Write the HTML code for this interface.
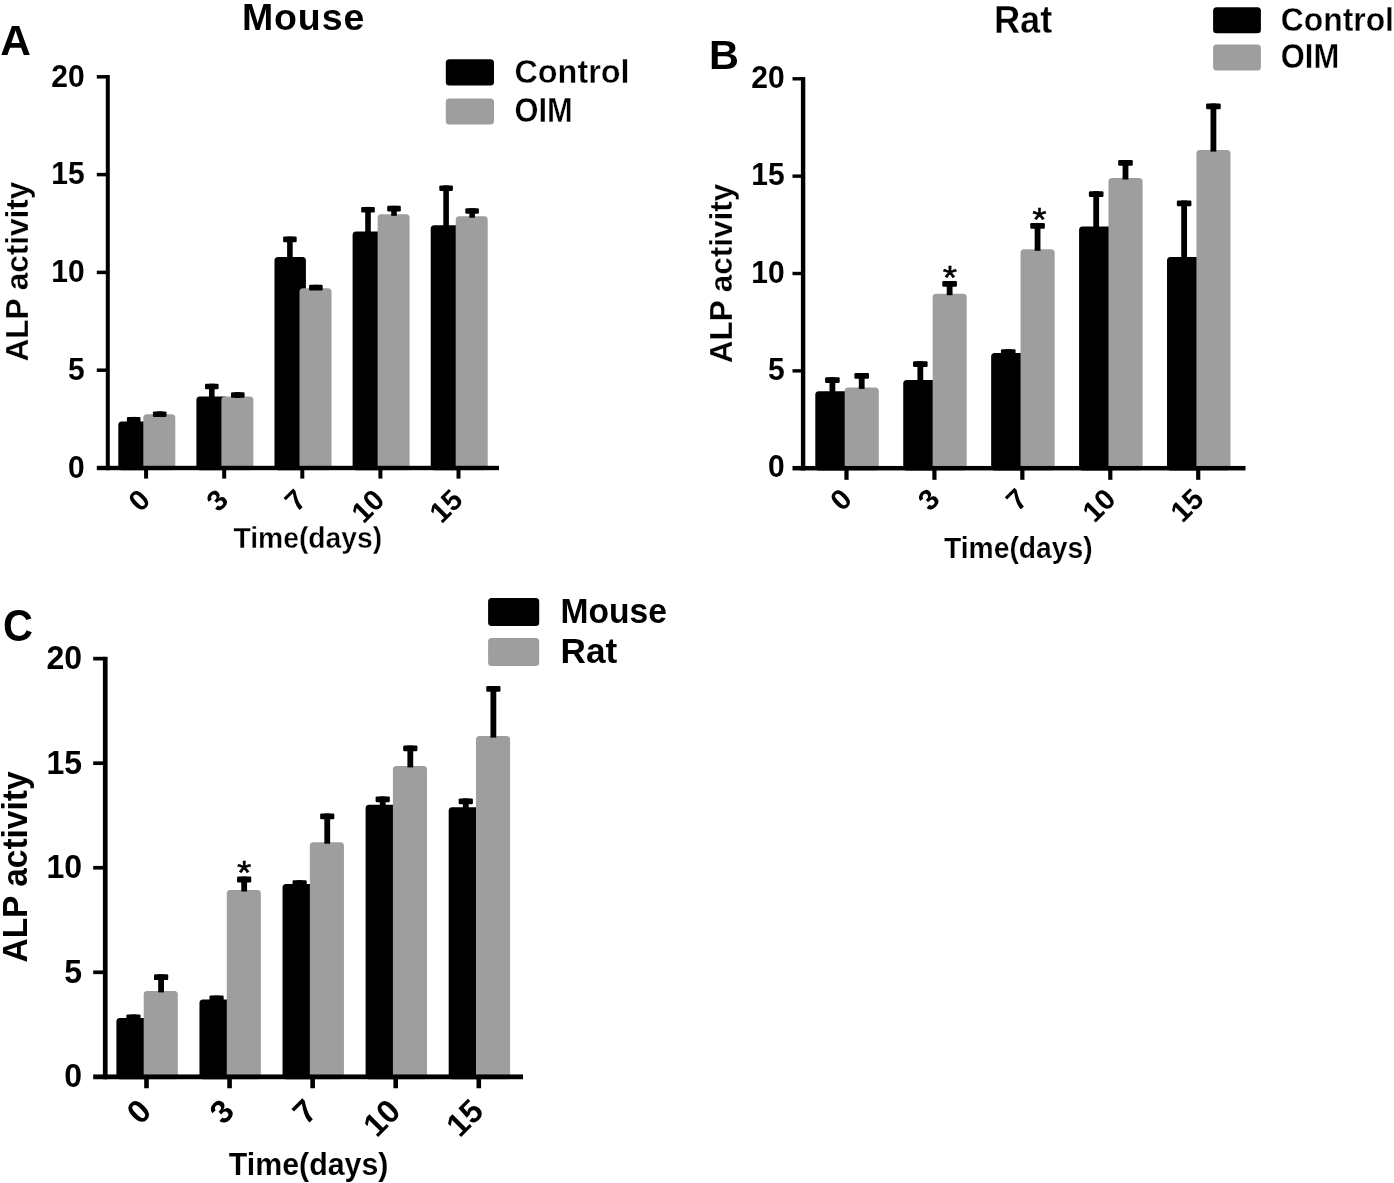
<!DOCTYPE html>
<html lang="en">
<head>
<meta charset="utf-8">
<title>ALP activity</title>
<style>
html,body{margin:0;padding:0;background:#fff;}
body{width:1394px;height:1183px;overflow:hidden;}
svg{display:block;}
svg text{font-family:"Liberation Sans", sans-serif;font-weight:bold;fill:#000;}
svg text.star{font-weight:normal;stroke:#000;stroke-width:0.5px;}
</style>
</head>
<body>
<svg width="1394" height="1183" viewBox="0 0 1394 1183">
<defs><filter id="soft" x="0" y="0" width="100%" height="100%" filterUnits="userSpaceOnUse" color-interpolation-filters="sRGB"><feGaussianBlur stdDeviation="0.55"/></filter></defs>
<rect x="0" y="0" width="1394" height="1183" fill="#fff"/>
<g id="figure" filter="url(#soft)">
<g id="panelA">
<rect x="118.3" y="421.6" width="31.4" height="48.6" rx="3.5" fill="#000"/>
<rect x="143.3" y="414.2" width="32" height="56" rx="3.5" fill="#9e9e9e"/>
<rect x="130.9" y="416.9" width="5.6" height="6.2" fill="#000"/>
<rect x="126.9" y="416.9" width="13.6" height="5.6" rx="1.2" fill="#000"/>
<rect x="156.9" y="411.4" width="5.6" height="4.3" fill="#000"/>
<rect x="152.9" y="411.4" width="13.6" height="5.6" rx="1.2" fill="#000"/>
<rect x="196.4" y="396.5" width="31.4" height="73.7" rx="3.5" fill="#000"/>
<rect x="221.4" y="396.5" width="32" height="73.7" rx="3.5" fill="#9e9e9e"/>
<rect x="209" y="383.7" width="5.6" height="14.3" fill="#000"/>
<rect x="205" y="383.7" width="13.6" height="5.6" rx="1.2" fill="#000"/>
<rect x="235" y="392.2" width="5.6" height="5.8" fill="#000"/>
<rect x="231" y="392.2" width="13.6" height="5.6" rx="1.2" fill="#000"/>
<rect x="274.5" y="257.1" width="31.4" height="213.1" rx="3.5" fill="#000"/>
<rect x="299.5" y="288.2" width="32" height="182" rx="3.5" fill="#9e9e9e"/>
<rect x="287.1" y="236.6" width="5.6" height="22" fill="#000"/>
<rect x="283.1" y="236.6" width="13.6" height="5.6" rx="1.2" fill="#000"/>
<rect x="313.1" y="284.8" width="5.6" height="4.9" fill="#000"/>
<rect x="309.1" y="284.8" width="13.6" height="5.6" rx="1.2" fill="#000"/>
<rect x="352.6" y="231.4" width="31.4" height="238.8" rx="3.5" fill="#000"/>
<rect x="377.6" y="214.3" width="32" height="255.9" rx="3.5" fill="#9e9e9e"/>
<rect x="365.2" y="206.9" width="5.6" height="26" fill="#000"/>
<rect x="361.2" y="206.9" width="13.6" height="5.6" rx="1.2" fill="#000"/>
<rect x="391.2" y="205.8" width="5.6" height="10" fill="#000"/>
<rect x="387.2" y="205.8" width="13.6" height="5.6" rx="1.2" fill="#000"/>
<rect x="430.7" y="225.3" width="31.4" height="244.9" rx="3.5" fill="#000"/>
<rect x="455.7" y="216.2" width="32" height="254" rx="3.5" fill="#9e9e9e"/>
<rect x="443.3" y="185.4" width="5.6" height="41.4" fill="#000"/>
<rect x="439.3" y="185.4" width="13.6" height="5.6" rx="1.2" fill="#000"/>
<rect x="469.3" y="208.2" width="5.6" height="9.5" fill="#000"/>
<rect x="465.3" y="208.2" width="13.6" height="5.6" rx="1.2" fill="#000"/>
<rect x="105.8" y="75.05" width="4" height="395.15" fill="#000"/>
<rect x="96.8" y="465.8" width="402.2" height="4.4" fill="#000"/>
<text transform="translate(84.6 477.76) scale(1 1.03)" font-size="30" text-anchor="end">0</text>
<rect x="96.8" y="368.45" width="11" height="3.5" fill="#000"/>
<text transform="translate(84.6 379.96) scale(1 1.03)" font-size="30" text-anchor="end">5</text>
<rect x="96.8" y="270.65" width="11" height="3.5" fill="#000"/>
<text transform="translate(84.6 282.16) scale(1 1.03)" font-size="30" text-anchor="end">10</text>
<rect x="96.8" y="172.85" width="11" height="3.5" fill="#000"/>
<text transform="translate(84.6 184.36) scale(1 1.03)" font-size="30" text-anchor="end">15</text>
<rect x="96.8" y="75.05" width="11" height="3.5" fill="#000"/>
<text transform="translate(84.6 86.56) scale(1 1.03)" font-size="30" text-anchor="end">20</text>
<rect x="144.1" y="468" width="4" height="10.6" fill="#000"/>
<text transform="translate(151.9 501.6) rotate(-45)" font-size="29" text-anchor="end">0</text>
<rect x="222.2" y="468" width="4" height="10.6" fill="#000"/>
<text transform="translate(230 501.6) rotate(-45)" font-size="29" text-anchor="end">3</text>
<rect x="300.3" y="468" width="4" height="10.6" fill="#000"/>
<text transform="translate(308.1 501.6) rotate(-45)" font-size="29" text-anchor="end">7</text>
<rect x="378.4" y="468" width="4" height="10.6" fill="#000"/>
<text transform="translate(386.2 501.6) rotate(-45)" font-size="29" text-anchor="end">10</text>
<rect x="456.5" y="468" width="4" height="10.6" fill="#000"/>
<text transform="translate(464.3 501.6) rotate(-45)" font-size="29" text-anchor="end">15</text>
<text transform="translate(307.8 548.1) scale(1.01 1.085)" font-size="28" text-anchor="middle" stroke="#fff" stroke-width="0.3">Time(days)</text>
<text transform="translate(28.2 271.6) rotate(-90) scale(1.008 1.02)" font-size="31.3" text-anchor="middle" stroke="#fff" stroke-width="0.25">ALP activity</text>
<text transform="translate(0.3 54.9) scale(1 1.02)" font-size="42.5">A</text>
<text transform="translate(241.9 30)" font-size="37.5" letter-spacing="0.9">Mouse</text>
<rect x="445.8" y="59.2" width="48.2" height="26.2" rx="3.5" fill="#000"/>
<text transform="translate(514.4 83) scale(1.013 1.055)" font-size="32" stroke="#fff" stroke-width="0.4">Control</text>
<rect x="445.8" y="98.4" width="48.2" height="26.2" rx="3.5" fill="#9e9e9e"/>
<text transform="translate(514.4 122.1) scale(0.965 1.095)" font-size="32" stroke="#fff" stroke-width="0.4">OIM</text>
</g>
<g id="panelB">
<rect x="815.3" y="391.2" width="34.2" height="79.25" rx="3.5" fill="#000"/>
<rect x="844.7" y="387.4" width="34.1" height="83.05" rx="3.5" fill="#9e9e9e"/>
<rect x="829.5" y="377.2" width="5.8" height="15.5" fill="#000"/>
<rect x="825.1" y="377.2" width="14.6" height="5.7" rx="1.2" fill="#000"/>
<rect x="858.8" y="373" width="5.8" height="15.9" fill="#000"/>
<rect x="854.4" y="373" width="14.6" height="5.7" rx="1.2" fill="#000"/>
<rect x="903.23" y="379.9" width="34.2" height="90.55" rx="3.5" fill="#000"/>
<rect x="932.63" y="293.7" width="34.1" height="176.75" rx="3.5" fill="#9e9e9e"/>
<rect x="917.43" y="361.2" width="5.8" height="20.2" fill="#000"/>
<rect x="913.03" y="361.2" width="14.6" height="5.7" rx="1.2" fill="#000"/>
<rect x="946.73" y="281" width="5.8" height="14.2" fill="#000"/>
<rect x="942.33" y="281" width="14.6" height="5.7" rx="1.2" fill="#000"/>
<rect x="991.16" y="353" width="34.2" height="117.45" rx="3.5" fill="#000"/>
<rect x="1020.56" y="249.3" width="34.1" height="221.15" rx="3.5" fill="#9e9e9e"/>
<rect x="1005.36" y="349.3" width="5.8" height="5.2" fill="#000"/>
<rect x="1000.96" y="349.3" width="14.6" height="5.7" rx="1.2" fill="#000"/>
<rect x="1034.66" y="223" width="5.8" height="27.8" fill="#000"/>
<rect x="1030.26" y="223" width="14.6" height="5.7" rx="1.2" fill="#000"/>
<rect x="1079.09" y="226.6" width="34.2" height="243.85" rx="3.5" fill="#000"/>
<rect x="1108.49" y="178" width="34.1" height="292.45" rx="3.5" fill="#9e9e9e"/>
<rect x="1093.29" y="191.2" width="5.8" height="36.9" fill="#000"/>
<rect x="1088.89" y="191.2" width="14.6" height="5.7" rx="1.2" fill="#000"/>
<rect x="1122.59" y="160" width="5.8" height="19.5" fill="#000"/>
<rect x="1118.19" y="160" width="14.6" height="5.7" rx="1.2" fill="#000"/>
<rect x="1167.02" y="257.1" width="34.2" height="213.35" rx="3.5" fill="#000"/>
<rect x="1196.42" y="150.1" width="34.1" height="320.35" rx="3.5" fill="#9e9e9e"/>
<rect x="1181.22" y="200.5" width="5.8" height="58.1" fill="#000"/>
<rect x="1176.82" y="200.5" width="14.6" height="5.7" rx="1.2" fill="#000"/>
<rect x="1210.52" y="103.5" width="5.8" height="48.1" fill="#000"/>
<rect x="1206.12" y="103.5" width="14.6" height="5.7" rx="1.2" fill="#000"/>
<rect x="800.9" y="77.1" width="4.4" height="393.35" fill="#000"/>
<rect x="792.5" y="465.95" width="453" height="4.5" fill="#000"/>
<text transform="translate(784.6 477.46) scale(1 1.03)" font-size="30" text-anchor="end">0</text>
<rect x="792.5" y="369.15" width="10.6" height="3.4" fill="#000"/>
<text transform="translate(784.6 380.11) scale(1 1.03)" font-size="30" text-anchor="end">5</text>
<rect x="792.5" y="271.8" width="10.6" height="3.4" fill="#000"/>
<text transform="translate(784.6 282.76) scale(1 1.03)" font-size="30" text-anchor="end">10</text>
<rect x="792.5" y="174.45" width="10.6" height="3.4" fill="#000"/>
<text transform="translate(784.6 185.41) scale(1 1.03)" font-size="30" text-anchor="end">15</text>
<rect x="792.5" y="77.1" width="10.6" height="3.4" fill="#000"/>
<text transform="translate(784.6 88.06) scale(1 1.03)" font-size="30" text-anchor="end">20</text>
<rect x="844.4" y="468.2" width="4.2" height="11.6" fill="#000"/>
<text transform="translate(853.6 500.9) rotate(-45)" font-size="29" text-anchor="end">0</text>
<rect x="932.33" y="468.2" width="4.2" height="11.6" fill="#000"/>
<text transform="translate(941.53 500.9) rotate(-45)" font-size="29" text-anchor="end">3</text>
<rect x="1020.26" y="468.2" width="4.2" height="11.6" fill="#000"/>
<text transform="translate(1029.46 500.9) rotate(-45)" font-size="29" text-anchor="end">7</text>
<rect x="1108.19" y="468.2" width="4.2" height="11.6" fill="#000"/>
<text transform="translate(1117.39 500.9) rotate(-45)" font-size="29" text-anchor="end">10</text>
<rect x="1196.12" y="468.2" width="4.2" height="11.6" fill="#000"/>
<text transform="translate(1205.32 500.9) rotate(-45)" font-size="29" text-anchor="end">15</text>
<text transform="translate(1018.3 558.2) scale(1.01 1.075)" font-size="28" text-anchor="middle" stroke="#fff" stroke-width="0.2">Time(days)</text>
<text transform="translate(732.3 273.5) rotate(-90) scale(1.005 1.03)" font-size="31.3" text-anchor="middle" stroke="#fff" stroke-width="0.25">ALP activity</text>
<text transform="translate(709.1 69.1)" font-size="41.5">B</text>
<text transform="translate(993.9 32.6) scale(0.968 1.04)" font-size="37.5" stroke="#fff" stroke-width="0.35">Rat</text>
<rect x="1213.1" y="7.2" width="47.8" height="26" rx="3.5" fill="#000"/>
<text transform="translate(1280.8 30.5) scale(0.995 1.06)" font-size="32" stroke="#fff" stroke-width="0.3">Control</text>
<rect x="1213.1" y="44.5" width="47.8" height="26" rx="3.5" fill="#9e9e9e"/>
<text transform="translate(1280.8 67.6) scale(0.965 1.07)" font-size="32" stroke="#fff" stroke-width="0.3">OIM</text>
<text transform="translate(949.9 289) scale(1 0.9)" font-size="37" text-anchor="middle" class="star">*</text>
<text transform="translate(1039.5 230.7) scale(1 0.9)" font-size="37" text-anchor="middle" class="star">*</text>
</g>
<g id="panelC">
<rect x="116.4" y="1018.1" width="32.1" height="61.15" rx="3.5" fill="#000"/>
<rect x="143.7" y="990.9" width="34.1" height="88.35" rx="3.5" fill="#9e9e9e"/>
<rect x="130.6" y="1014.5" width="5.8" height="5.1" fill="#000"/>
<rect x="126.4" y="1014.5" width="14.2" height="5.8" rx="1.2" fill="#000"/>
<rect x="158.2" y="974.3" width="5.8" height="18.1" fill="#000"/>
<rect x="154" y="974.3" width="14.2" height="5.8" rx="1.2" fill="#000"/>
<rect x="199.47" y="999.6" width="32.1" height="79.65" rx="3.5" fill="#000"/>
<rect x="226.77" y="890" width="34.1" height="189.25" rx="3.5" fill="#9e9e9e"/>
<rect x="213.67" y="995.6" width="5.8" height="5.5" fill="#000"/>
<rect x="209.47" y="995.6" width="14.2" height="5.8" rx="1.2" fill="#000"/>
<rect x="241.27" y="876.6" width="5.8" height="14.9" fill="#000"/>
<rect x="237.07" y="876.6" width="14.2" height="5.8" rx="1.2" fill="#000"/>
<rect x="282.54" y="884" width="32.1" height="195.25" rx="3.5" fill="#000"/>
<rect x="309.84" y="842.2" width="34.1" height="237.05" rx="3.5" fill="#9e9e9e"/>
<rect x="296.74" y="880.2" width="5.8" height="5.3" fill="#000"/>
<rect x="292.54" y="880.2" width="14.2" height="5.8" rx="1.2" fill="#000"/>
<rect x="324.34" y="813.5" width="5.8" height="30.2" fill="#000"/>
<rect x="320.14" y="813.5" width="14.2" height="5.8" rx="1.2" fill="#000"/>
<rect x="365.61" y="804.8" width="32.1" height="274.45" rx="3.5" fill="#000"/>
<rect x="392.91" y="765.9" width="34.1" height="313.35" rx="3.5" fill="#9e9e9e"/>
<rect x="379.81" y="796.4" width="5.8" height="9.9" fill="#000"/>
<rect x="375.61" y="796.4" width="14.2" height="5.8" rx="1.2" fill="#000"/>
<rect x="407.41" y="745.5" width="5.8" height="21.9" fill="#000"/>
<rect x="403.21" y="745.5" width="14.2" height="5.8" rx="1.2" fill="#000"/>
<rect x="448.68" y="807.2" width="32.1" height="272.05" rx="3.5" fill="#000"/>
<rect x="475.98" y="736.1" width="34.1" height="343.15" rx="3.5" fill="#9e9e9e"/>
<rect x="462.88" y="798.4" width="5.8" height="10.3" fill="#000"/>
<rect x="458.68" y="798.4" width="14.2" height="5.8" rx="1.2" fill="#000"/>
<rect x="490.48" y="686" width="5.8" height="51.6" fill="#000"/>
<rect x="486.28" y="686" width="14.2" height="5.8" rx="1.2" fill="#000"/>
<rect x="102.9" y="656.8" width="4.7" height="422.45" fill="#000"/>
<rect x="93.2" y="1074.45" width="429.8" height="4.8" fill="#000"/>
<text transform="translate(82 1087.35) scale(1 1.03)" font-size="32" text-anchor="end">0</text>
<rect x="93.2" y="970.45" width="12.05" height="3.7" fill="#000"/>
<text transform="translate(82 982.8) scale(1 1.03)" font-size="32" text-anchor="end">5</text>
<rect x="93.2" y="865.9" width="12.05" height="3.7" fill="#000"/>
<text transform="translate(82 878.25) scale(1 1.03)" font-size="32" text-anchor="end">10</text>
<rect x="93.2" y="761.35" width="12.05" height="3.7" fill="#000"/>
<text transform="translate(82 773.7) scale(1 1.03)" font-size="32" text-anchor="end">15</text>
<rect x="93.2" y="656.8" width="12.05" height="3.7" fill="#000"/>
<text transform="translate(82 669.15) scale(1 1.03)" font-size="32" text-anchor="end">20</text>
<rect x="144.2" y="1076.85" width="4.6" height="11.4" fill="#000"/>
<text transform="translate(153 1113) rotate(-45)" font-size="32.5" text-anchor="end">0</text>
<rect x="227.27" y="1076.85" width="4.6" height="11.4" fill="#000"/>
<text transform="translate(236.07 1113) rotate(-45)" font-size="32.5" text-anchor="end">3</text>
<rect x="310.34" y="1076.85" width="4.6" height="11.4" fill="#000"/>
<text transform="translate(319.14 1113) rotate(-45)" font-size="32.5" text-anchor="end">7</text>
<rect x="393.41" y="1076.85" width="4.6" height="11.4" fill="#000"/>
<text transform="translate(402.21 1113) rotate(-45)" font-size="32.5" text-anchor="end">10</text>
<rect x="476.48" y="1076.85" width="4.6" height="11.4" fill="#000"/>
<text transform="translate(485.28 1113) rotate(-45)" font-size="32.5" text-anchor="end">15</text>
<text transform="translate(308.6 1175) scale(1.012 1.05)" font-size="30" text-anchor="middle" stroke="#fff" stroke-width="0.1">Time(days)</text>
<text transform="translate(26.6 867) rotate(-90) scale(1 1.02)" font-size="33.5" text-anchor="middle">ALP activity</text>
<text transform="translate(3.1 640.9) scale(1 1.08)" font-size="41.5">C</text>
<rect x="488.1" y="598.1" width="51.1" height="28" rx="3.5" fill="#000"/>
<text transform="translate(560.5 622.7) scale(1.003 1.04)" font-size="33.5">Mouse</text>
<rect x="488.1" y="638" width="51.1" height="28" rx="3.5" fill="#9e9e9e"/>
<text transform="translate(560.5 663) scale(1.05 1.04)" font-size="33.5">Rat</text>
<text transform="translate(244.2 883.7) scale(1 0.92)" font-size="37" text-anchor="middle" class="star">*</text>
</g>
</g>
</svg>
</body>
</html>
